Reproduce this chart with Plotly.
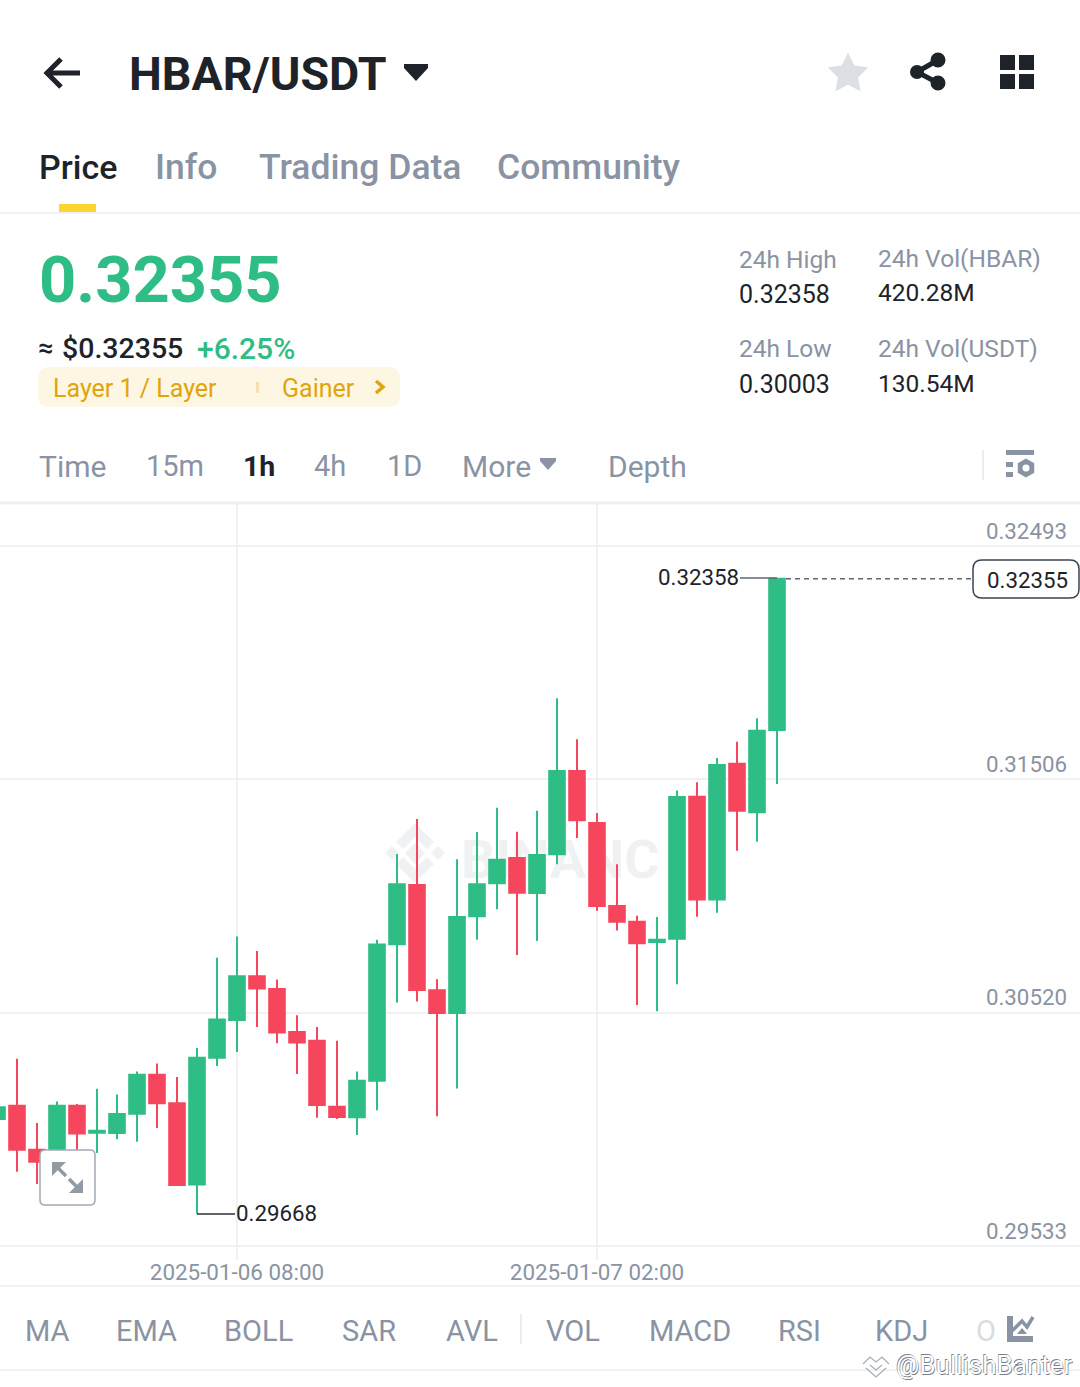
import math
import plotly.graph_objects as go

W = 1080
H = 1387

# hourly candles, first one is cut off by the left edge
times = [
    "2025-01-05 20:00", "2025-01-05 21:00", "2025-01-05 22:00", "2025-01-05 23:00",
    "2025-01-06 00:00", "2025-01-06 01:00", "2025-01-06 02:00", "2025-01-06 03:00",
    "2025-01-06 04:00", "2025-01-06 05:00", "2025-01-06 06:00", "2025-01-06 07:00",
    "2025-01-06 08:00", "2025-01-06 09:00", "2025-01-06 10:00", "2025-01-06 11:00",
    "2025-01-06 12:00", "2025-01-06 13:00", "2025-01-06 14:00", "2025-01-06 15:00",
    "2025-01-06 16:00", "2025-01-06 17:00", "2025-01-06 18:00", "2025-01-06 19:00",
    "2025-01-06 20:00", "2025-01-06 21:00", "2025-01-06 22:00", "2025-01-06 23:00",
    "2025-01-07 00:00", "2025-01-07 01:00", "2025-01-07 02:00", "2025-01-07 03:00",
    "2025-01-07 04:00", "2025-01-07 05:00", "2025-01-07 06:00", "2025-01-07 07:00",
    "2025-01-07 08:00", "2025-01-07 09:00", "2025-01-07 10:00", "2025-01-07 11:00",
]
opens = [
    0.30070, 0.30126, 0.29940, 0.29940, 0.30126, 0.30012, 0.30011, 0.30092,
    0.30257, 0.30137, 0.29793, 0.30329, 0.30489, 0.30674, 0.30620, 0.30438,
    0.30401, 0.30122, 0.30078, 0.30232, 0.30809, 0.31060, 0.30615, 0.30518,
    0.30928, 0.31067, 0.31174, 0.31026, 0.31190, 0.31542, 0.31322, 0.30971,
    0.30904, 0.30819, 0.30832, 0.31433, 0.30998, 0.31573, 0.31367, 0.31715,
]
highs = [
    0.30130, 0.30325, 0.30053, 0.30144, 0.30134, 0.30198, 0.30174, 0.30271,
    0.30305, 0.30248, 0.30370, 0.30752, 0.30842, 0.30781, 0.30660, 0.30509,
    0.30459, 0.30401, 0.30271, 0.30828, 0.31191, 0.31339, 0.30661, 0.31169,
    0.31284, 0.31387, 0.31285, 0.31374, 0.31850, 0.31676, 0.31364, 0.31148,
    0.30930, 0.30925, 0.31459, 0.31494, 0.31597, 0.31666, 0.31765, 0.32358,
]
lows = [
    0.30060, 0.29847, 0.29795, 0.29919, 0.29930, 0.29926, 0.29985, 0.29974,
    0.30032, 0.29789, 0.29668, 0.30294, 0.30354, 0.30459, 0.30391, 0.30261,
    0.30076, 0.30070, 0.30003, 0.30107, 0.30563, 0.30567, 0.30082, 0.30199,
    0.30828, 0.30957, 0.30764, 0.30823, 0.31148, 0.31259, 0.30951, 0.30867,
    0.30552, 0.30526, 0.30640, 0.30926, 0.30942, 0.31205, 0.31243, 0.31487,
]
closes = [
    0.30120, 0.29940, 0.29890, 0.30126, 0.30009, 0.30021, 0.30091, 0.30257,
    0.30137, 0.29791, 0.30329, 0.30491, 0.30674, 0.30622, 0.30436, 0.30394,
    0.30129, 0.30079, 0.30232, 0.30808, 0.31063, 0.30616, 0.30518, 0.30925,
    0.31063, 0.31167, 0.31027, 0.31187, 0.31542, 0.31334, 0.30971, 0.30904,
    0.30814, 0.30828, 0.31432, 0.30998, 0.31567, 0.31374, 0.31712, 0.32355,
]
price_ticks = [0.32493, 0.31506, 0.30520, 0.29533]
price_labels = ["0.32493", "0.31506", "0.30520", "0.29533"]
date_ticks = ["2025-01-06 08:00", "2025-01-07 02:00"]
last_price = 0.32355

GREEN = "#2EBD85"
RED = "#F6465D"
DARK = "#1E2329"
GREY = "#8A93A3"
LINE = "#EFF1F3"
WATER = "#F0F1F3"
FONT = "Roboto"


def px(x):
    return x / W


def py(y):
    return 1 - y / H


shapes = []
annotations = []


def poly(points, fill=None, line=None, width=0, close=True, layer="above"):
    d = "M " + " L ".join(f"{px(x):.5f},{py(y):.5f}" for x, y in points)
    if close:
        d += " Z"
    shapes.append(dict(
        type="path", path=d, xref="paper", yref="paper", layer=layer,
        fillcolor=fill if fill else "rgba(0,0,0,0)",
        line=dict(color=line if line else "rgba(0,0,0,0)", width=width)))


def rect(x0, y0, x1, y1, fill, layer="above"):
    shapes.append(dict(
        type="rect", xref="paper", yref="paper", layer=layer,
        x0=px(x0), x1=px(x1), y0=py(y0), y1=py(y1),
        fillcolor=fill, line=dict(width=0)))


def circle(cx, cy, r, fill):
    shapes.append(dict(
        type="circle", xref="paper", yref="paper",
        x0=px(cx - r), x1=px(cx + r), y0=py(cy - r), y1=py(cy + r),
        fillcolor=fill, line=dict(width=0)))


def hline(y, x0=0, x1=W, color=LINE, width=2):
    poly([(x0, y), (x1, y)], line=color, width=width, close=False)


def round_rect(x0, y0, x1, y1, r, fill=None, line=None, width=0):
    d = (f"M {px(x0 + r):.5f},{py(y0):.5f} L {px(x1 - r):.5f},{py(y0):.5f} "
         f"Q {px(x1):.5f},{py(y0):.5f} {px(x1):.5f},{py(y0 + r):.5f} "
         f"L {px(x1):.5f},{py(y1 - r):.5f} "
         f"Q {px(x1):.5f},{py(y1):.5f} {px(x1 - r):.5f},{py(y1):.5f} "
         f"L {px(x0 + r):.5f},{py(y1):.5f} "
         f"Q {px(x0):.5f},{py(y1):.5f} {px(x0):.5f},{py(y1 - r):.5f} "
         f"L {px(x0):.5f},{py(y0 + r):.5f} "
         f"Q {px(x0):.5f},{py(y0):.5f} {px(x0 + r):.5f},{py(y0):.5f} Z")
    shapes.append(dict(
        type="path", path=d, xref="paper", yref="paper",
        fillcolor=fill if fill else "rgba(0,0,0,0)",
        line=dict(color=line if line else "rgba(0,0,0,0)", width=width)))


def text(x, y, s, size, color, weight=400, anchor="left"):
    annotations.append(dict(
        x=px(x), y=py(y), xref="paper", yref="paper", text=s, showarrow=False,
        xanchor=anchor, yanchor="middle", borderpad=0, borderwidth=0,
        font=dict(family=FONT, size=size, color=color, weight=weight)))


# header
poly([(47, 73), (80, 73)], line=DARK, width=5, close=False)
poly([(61, 59), (47, 73), (61, 87)], line=DARK, width=5, close=False)
text(129, 74, "HBAR/USDT", 46.5, DARK, 700)
poly([(404, 64), (428, 64), (428, 68), (416, 81), (404, 68)], fill=DARK)

star = []
for i in range(10):
    r = 19 if i % 2 == 0 else 9.5
    a = -math.pi / 2 + i * math.pi / 5
    star.append((848 + r * math.cos(a), 74 + r * math.sin(a)))
poly(star, fill="#DCDFE4", line="#DCDFE4", width=2)

poly([(938, 60), (917, 72), (938, 83)], line=DARK, width=5, close=False)
circle(917, 72, 7, DARK)
circle(938, 60, 7.5, DARK)
circle(938, 83, 7.5, DARK)
rect(1000, 55, 1015, 70, DARK)
rect(1019, 55, 1034, 70, DARK)
rect(1000, 74, 1015, 89, DARK)
rect(1019, 74, 1034, 89, DARK)

# tabs
text(39, 167, "Price", 34, DARK, 500)
text(155, 167, "Info", 35.5, GREY, 500)
text(259, 167, "Trading Data", 35.5, GREY, 500)
text(497, 167, "Community", 35.5, GREY, 500)
rect(59, 204, 96, 212, "#FCD535")
hline(213)

# price block
text(39, 280, "0.32355", 65, GREEN, 700)
text(38, 348, "≈", 27, DARK, 500)
text(62, 348, "$0.32355", 28.5, DARK, 500)
text(197, 348, "+6.25%", 30, GREEN, 500)
round_rect(38, 367, 400, 407, 12, fill="#FDF6E3")
text(53, 388, "Layer 1 / Layer", 25, "#DFA50F")
rect(256, 382, 259, 393, "#F3E2B0")
text(282, 388, "Gainer", 25, "#DFA50F")
poly([(376, 381), (383, 387), (376, 393)], line="#DFA50F", width=3.5, close=False)

text(738.5, 259, "24h High", 24.5, GREY)
text(738.5, 294, "0.32358", 25, DARK)
text(878, 258, "24h Vol(HBAR)", 24.5, GREY)
text(878, 293, "420.28M", 24.5, DARK)
text(738.5, 349, "24h Low", 24.5, GREY)
text(738.5, 384, "0.30003", 25, DARK)
text(878, 348, "24h Vol(USDT)", 24.5, GREY)
text(878, 383, "130.54M", 24.5, DARK)

# interval row
text(38.5, 466.5, "Time", 30, GREY)
text(146, 466.5, "15m", 29, GREY)
text(243, 466.5, "1h", 28.5, DARK, 700)
text(314, 466.5, "4h", 29, GREY)
text(387, 466.5, "1D", 29, GREY)
text(461.5, 466.5, "More", 30, GREY)
poly([(540, 458), (556, 458), (556, 461), (548, 470), (540, 461)], fill=GREY)
text(608, 466.5, "Depth", 30, GREY)
poly([(983, 450), (983, 480)], line="#EAECEF", width=2, close=False)
rect(1006, 450, 1034, 455, GREY)
rect(1006, 462, 1013, 467, GREY)
rect(1006, 472, 1013, 477, GREY)
hexa = []
for i in range(6):
    a = -math.pi / 2 + i * math.pi / 3
    hexa.append((1026 + 9.5 * math.cos(a), 468 + 9.5 * math.sin(a)))
poly(hexa, fill=GREY)
circle(1026, 468, 3.5, "white")
hline(503, color="#EEF0F2", width=3)

# watermark under the candles
for part in [
    [(415, 843), (425, 853), (415, 864), (405, 853)],
    [(392, 846), (399, 853), (392, 860), (385, 853)],
    [(438, 846), (445, 853), (438, 860), (431, 853)],
]:
    poly(part, fill=WATER, layer="below")
poly([(396, 842), (415, 823), (434, 842), (427, 849), (415, 837), (403, 849)],
     fill=WATER, layer="below")
poly([(396, 864), (415, 883), (434, 864), (427, 857), (415, 869), (403, 857)],
     fill=WATER, layer="below")
shapes.append(dict(
    type="rect", xref="paper", yref="paper", layer="below",
    x0=px(456), x1=px(680), y0=py(830), y1=py(880),
    fillcolor="rgba(0,0,0,0)", line=dict(width=0),
    label=dict(text="<b>BINANC</b>", textposition="middle left",
               font=dict(family=FONT, size=54, color=WATER), padding=2)))

# high / low / last price markers
high_idx = highs.index(max(highs))
low_idx = lows.index(min(lows))
shapes.append(dict(
    type="line", xref="paper", yref="y", x0=px(740), x1=px(777),
    y0=highs[high_idx], y1=highs[high_idx], line=dict(color="#5E6673", width=1.5)))
shapes.append(dict(
    type="line", xref="paper", yref="y", x0=px(197), x1=px(235),
    y0=lows[low_idx], y1=lows[low_idx], line=dict(color="#2B3139", width=1.5)))
shapes.append(dict(
    type="line", xref="paper", yref="y", x0=px(786), x1=px(973),
    y0=last_price, y1=last_price, line=dict(color="#5E6673", width=1.5, dash="5px,4px")))
annotations.append(dict(
    x=px(740), y=highs[high_idx], xref="paper", yref="y", text=f"{highs[high_idx]:.5f}",
    showarrow=False, xanchor="right", yanchor="middle", yshift=1, borderpad=0,
    font=dict(family=FONT, size=22.3, color=DARK)))
annotations.append(dict(
    x=px(234.5), y=lows[low_idx], xref="paper", yref="y", text=f"{lows[low_idx]:.5f}",
    showarrow=False, xanchor="left", yanchor="middle", yshift=1, borderpad=0,
    font=dict(family=FONT, size=22.3, color=DARK)))
round_rect(973, 560, 1079, 598, 9, fill="white", line="#3C4450", width=1.5)
annotations.append(dict(
    x=px(1027), y=last_price, xref="paper", yref="y", text=f"{last_price:.5f}",
    showarrow=False, xanchor="center", yanchor="middle", yshift=-1, borderpad=0,
    font=dict(family=FONT, size=22.3, color=DARK)))

# expand button
round_rect(40, 1150, 95, 1205, 5, fill="white", line="#A3A9B5", width=1.5)
poly([(52, 1162), (66, 1162), (52, 1176)], fill="#929AA5")
poly([(83, 1193), (69, 1193), (83, 1179)], fill="#929AA5")
poly([(56, 1166), (66, 1176)], line="#929AA5", width=3.5, close=False)
poly([(79, 1189), (69, 1179)], line="#929AA5", width=3.5, close=False)

# bottom row
hline(1246, color=LINE)
hline(1286)
for name, x in [("MA", 24.5), ("EMA", 115.5), ("BOLL", 223.5), ("SAR", 342), ("AVL", 445.5),
                ("VOL", 546), ("MACD", 648.5), ("RSI", 778), ("KDJ", 875)]:
    text(x, 1330.5, name, 29, GREY)
text(976, 1330.5, "O", 29, "#D8DCE1")
poly([(521, 1314), (521, 1344)], line="#EAECEF", width=2, close=False)
rect(1007, 1316, 1013, 1342, GREY)
rect(1007, 1336, 1033, 1342, GREY)
poly([(1012, 1331), (1022, 1321), (1027, 1327), (1033, 1317)], line=GREY, width=3.5, close=False)
poly([(1017, 1334), (1022, 1328), (1027, 1334)], fill=GREY)
hline(1370)

# photo credit
poly([(863, 1364), (870, 1357), (876, 1362), (882, 1357), (889, 1364)],
     line="#A9AEB6", width=1.2, close=False)
poly([(870, 1365), (876, 1370), (882, 1365)], line="#A9AEB6", width=1.2, close=False)
poly([(866, 1368), (876, 1377), (886, 1368)], line="#A9AEB6", width=1.2, close=False)
annotations.append(dict(
    x=px(895), y=py(1365), xref="paper", yref="paper", text="@BullishBanter",
    showarrow=False, xanchor="left", yanchor="middle", borderpad=0,
    font=dict(family=FONT, size=26, color="white",
              shadow="0.7px 0.7px 0.6px #7A808A, -0.7px -0.7px 0.6px #7A808A")))

fig = go.Figure(go.Candlestick(
    x=times,
    open=opens,
    high=highs,
    low=lows,
    close=closes,
    whiskerwidth=0,
    increasing=dict(line=dict(color=GREEN, width=2), fillcolor=GREEN),
    decreasing=dict(line=dict(color=RED, width=2), fillcolor=RED),
    showlegend=False,
    hoverinfo="skip",
))

fig.update_layout(
    width=W,
    height=H,
    autosize=False,
    margin=dict(l=0, r=0, t=0, b=0),
    paper_bgcolor="white",
    plot_bgcolor="white",
    boxgap=0.22,
    boxgroupgap=0,
    shapes=shapes,
    annotations=annotations,
    font=dict(family=FONT),
)
fig.update_xaxes(
    type="date",
    range=["2025-01-05 20:09", "2025-01-08 02:09"],
    rangeslider=dict(visible=False),
    domain=[0, 1],
    tickmode="array",
    tickvals=date_ticks,
    ticktext=date_ticks,
    tickfont=dict(family=FONT, size=22.4, color=GREY),
    ticklabelstandoff=-3,
    showgrid=True,
    gridcolor=LINE,
    gridwidth=2,
    ticks="",
    zeroline=False,
    showline=False,
)
fig.update_yaxes(
    range=[0.29474, 0.32671],
    domain=[py(1260), py(504)],
    side="right",
    tickmode="array",
    tickvals=price_ticks,
    ticktext=price_labels,
    tickfont=dict(family=FONT, size=22.3, color=GREY),
    ticklabelposition="inside",
    ticklabelshift=-15,
    ticklabelstandoff=10,
    showgrid=True,
    gridcolor=LINE,
    gridwidth=2,
    ticks="",
    zeroline=False,
    showline=False,
)

fig.write_html(
    "out.html",
    config=dict(displayModeBar=False),
    post_script="document.body.style.margin='0';document.body.style.overflow='hidden';",
)
